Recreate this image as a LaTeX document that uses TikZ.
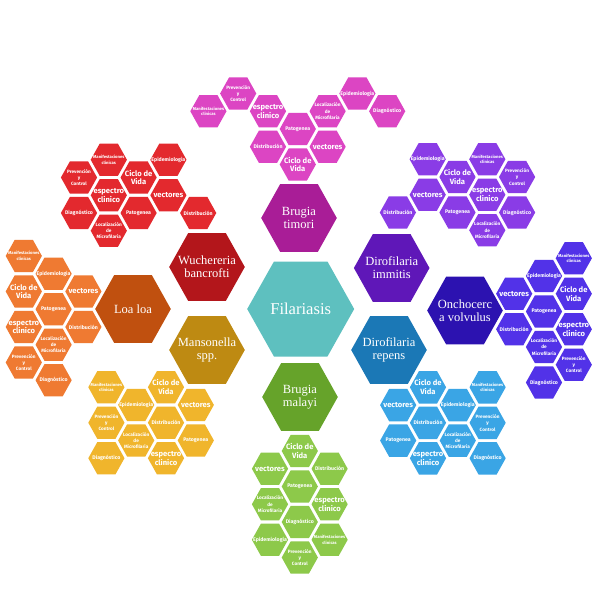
\documentclass[tikz,border=0pt]{standalone}
\usepackage{fontspec}
\setmainfont{Liberation Serif}
\setsansfont{Fira Sans}
\definecolor{magS}{HTML}{DC45C3}\definecolor{magM}{HTML}{A91D97}
\definecolor{redS}{HTML}{E3292E}\definecolor{redM}{HTML}{B3161B}
\definecolor{purS}{HTML}{8A3CE6}\definecolor{purM}{HTML}{5F17B8}
\definecolor{indS}{HTML}{5232E8}\definecolor{indM}{HTML}{2C12B0}
\definecolor{oraS}{HTML}{EF7A32}\definecolor{oraM}{HTML}{C0500F}
\definecolor{yelS}{HTML}{F0B52C}\definecolor{yelM}{HTML}{BE8A12}
\definecolor{bluS}{HTML}{3AA5E5}\definecolor{bluM}{HTML}{1B78B6}
\definecolor{grnS}{HTML}{8DC94A}\definecolor{grnM}{HTML}{66A32A}
\definecolor{tealC}{HTML}{5EC0BF}
\tikzset{
 stxt/.style={text=white, align=center, inner sep=0pt},
 sbig/.style={stxt, font=\sffamily\bfseries\fontsize{7.6}{8.8}\selectfont},
 ssm/.style={stxt, font=\sffamily\bfseries\fontsize{5.2}{6}\selectfont},
 stn/.style={stxt, font=\sffamily\bfseries\fontsize{4.7}{6.3}\selectfont},
 sxt/.style={stxt, font=\sffamily\bfseries\fontsize{4.2}{5.6}\selectfont},
 mtxt/.style={text=white, align=center, inner sep=0pt, font=\fontsize{12.5}{13}\selectfont},
 ctxt/.style={text=white, align=center, inner sep=0pt, font=\fontsize{16.6}{18}\selectfont},
}
\newcommand\hexfill[5]{\fill[#5] ({#1+#3},{#2}) -- ({#1+#3/2},{#2+#4}) -- ({#1-#3/2},{#2+#4}) -- ({#1-#3},{#2}) -- ({#1-#3/2},{#2-#4}) -- ({#1+#3/2},{#2-#4}) -- cycle;}
\newcommand\sm[5]{%
 \pgfmathsetmacro\hxX{\hxOX+29.8*(#2)}%
 \pgfmathsetmacro\hxY{\hxOY+35.5*((#3)+(#2)/2)}%
 \hexfill{\hxX}{\hxY}{18.1}{16.2}{\hxClr}%
 \node[#4] (#1) at (\hxX,\hxY) {#5};}
\newcommand\med[5]{% name x y color text
 \hexfill{#2}{#3}{37.8}{33.8}{#4}%
 \node[mtxt] (#1) at (#2,#3) {#5};}
\newcommand\hCV[3]{\sm{#1}{#2}{#3}{sbig}{Ciclo de\\Vida}}
\newcommand\hEC[3]{\sm{#1}{#2}{#3}{sbig}{espectro\\clinico}}
\newcommand\hVE[3]{\sm{#1}{#2}{#3}{sbig}{vectores}}
\newcommand\hEP[3]{\sm{#1}{#2}{#3}{ssm}{Epidemiologia}}
\newcommand\hDI[3]{\sm{#1}{#2}{#3}{ssm}{Distribución}}
\newcommand\hPA[3]{\sm{#1}{#2}{#3}{ssm}{Patogenea}}
\newcommand\hDG[3]{\sm{#1}{#2}{#3}{ssm}{Diagnóstico}}
\newcommand\hMC[3]{\sm{#1}{#2}{#3}{sxt}{Manifestaciones\\clinicas}}
\newcommand\hPC[3]{\sm{#1}{#2}{#3}{stn}{Prevención\\y\\Control}}
\newcommand\hLM[3]{\sm{#1}{#2}{#3}{stn}{Localización\\de\\Microfilaria}}
\begin{document}
\begin{tikzpicture}[x=1pt,y=-1pt]
\useasboundingbox[fill=white] (0,0) rectangle (600,600);
% centre
\hexfill{300.7}{309}{53.5}{47.5}{tealC}
\node[ctxt] (fil) at (300.7,309) {Filariasis};
% medium
\med{bt}{299}{218}{magM}{Brugia\\timori}
\med{wb}{207}{267}{redM}{Wuchereria\\bancrofti}
\med{di}{391.7}{268}{purM}{Dirofilaria\\immitis}
\med{ll}{133}{309}{oraM}{Loa loa}
\med{ov}{465}{310.5}{indM}{Onchocerc\\a volvulus}
\med{ms}{207}{350}{yelM}{Mansonella\\spp.}
\med{dr}{389}{350}{bluM}{Dirofilaria\\repens}
\med{bm}{300}{397}{grnM}{Brugia\\malayi}
% red cluster
\def\hxOX{138.6}\def\hxOY{177.5}\def\hxClr{redS}
\hCV{r1}{0}{0} \hMC{r2}{-1}{0} \hEP{r3}{1}{-1} \hPC{r4}{-2}{1} \hEC{r5}{-1}{1}
\hVE{r6}{1}{0} \hDG{r7}{-2}{2} \hPA{r8}{0}{1} \hDI{r9}{2}{0} \hLM{r10}{-1}{2}
% magenta cluster
\def\hxOX{297.8}\def\hxOY{129}\def\hxClr{magS}
\hMC{m1}{-3}{1} \hPC{m2}{-2}{0} \hEC{m3}{-1}{0} \hDI{m4}{-1}{1} \hPA{m5}{0}{0}
\hCV{m6}{0}{1} \hLM{m7}{1}{-1} \hVE{m8}{1}{0} \hEP{m9}{2}{-2} \hDG{m10}{3}{-2}
% purple cluster
\def\hxOX{457.5}\def\hxOY{177}\def\hxClr{purS}
\hEP{p1}{-1}{0} \hMC{p2}{1}{-1} \hCV{p3}{0}{0} \hPC{p4}{2}{-1} \hVE{p5}{-1}{1}
\hEC{p6}{1}{0} \hDI{p7}{-2}{2} \hPA{p8}{0}{1} \hDG{p9}{2}{0} \hLM{p10}{1}{1}
% orange cluster
\def\hxOX{53.6}\def\hxOY{309.2}\def\hxClr{oraS}
\hMC{o1}{-1}{-1} \hEP{o2}{0}{-1} \hCV{o3}{-1}{0} \hVE{o4}{1}{-1} \hPA{o5}{0}{0}
\hEC{o6}{-1}{1} \hDI{o7}{1}{0} \hLM{o8}{0}{1} \hPC{o9}{-1}{2} \hDG{o10}{0}{2}
% indigo cluster
\def\hxOX{544}\def\hxOY{311.5}\def\hxClr{indS}
\hMC{i1}{1}{-2} \hEP{i2}{0}{-1} \hVE{i3}{-1}{0} \hCV{i4}{1}{-1} \hPA{i5}{0}{0}
\hDI{i6}{-1}{1} \hEC{i7}{1}{0} \hLM{i8}{0}{1} \hPC{i9}{1}{1} \hDG{i10}{0}{2}
% yellow cluster
\def\hxOX{166}\def\hxOY{422.7}\def\hxClr{yelS}
\hCV{y1}{0}{-1} \hMC{y2}{-2}{0} \hEP{y3}{-1}{0} \hVE{y4}{1}{-1} \hPC{y5}{-2}{1}
\hDI{y6}{0}{0} \hLM{y7}{-1}{1} \hPA{y8}{1}{0} \hDG{y9}{-2}{2} \hEC{y10}{0}{1}
% blue cluster
\def\hxOX{428}\def\hxOY{422.8}\def\hxClr{bluS}
\hCV{b1}{0}{-1} \hMC{b2}{2}{-2} \hVE{b3}{-1}{0} \hEP{b4}{1}{-1} \hDI{b5}{0}{0}
\hPC{b6}{2}{-1} \hPA{b7}{-1}{1} \hLM{b8}{1}{0} \hEC{b9}{0}{1} \hDG{b10}{2}{0}
% green cluster
\def\hxOX{299.8}\def\hxOY{486.5}\def\hxClr{grnS}
\hCV{g1}{0}{-1} \hVE{g2}{-1}{0} \hDI{g3}{1}{-1} \hPA{g4}{0}{0} \hLM{g5}{-1}{1}
\hEC{g6}{1}{0} \hDG{g7}{0}{1} \hEP{g8}{-1}{2} \hMC{g9}{1}{1} \hPC{g10}{0}{2}
\end{tikzpicture}
\end{document}
